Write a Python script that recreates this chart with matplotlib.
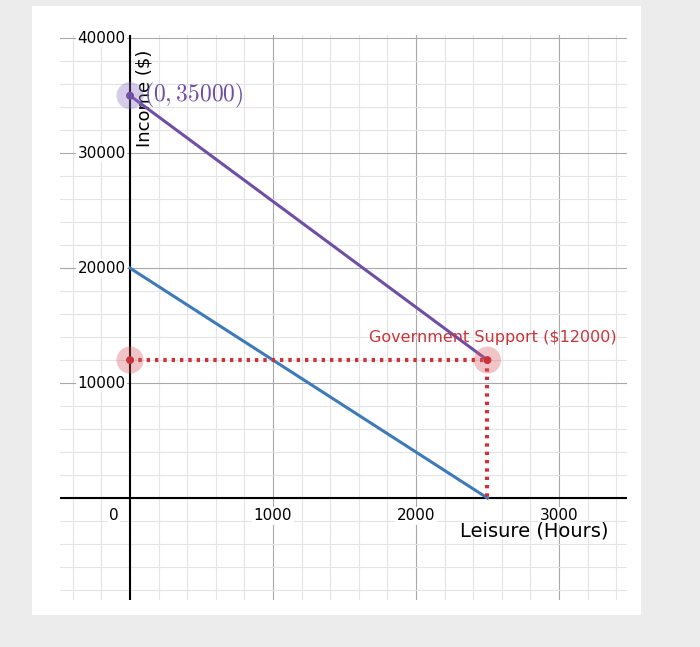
import matplotlib.pyplot as plt
from matplotlib.patches import Rectangle
import numpy as np

# --- data ---
budget_x = [0, 2500]
budget_y = [35000, 12000]
base_x = [0, 2500]
base_y = [20000, 0]
support_h_x = [0, 2500]
support_h_y = [12000, 12000]
support_v_x = [2500, 2500]
support_v_y = [12000, 0]
marked_x = [0, 0, 2500]
marked_y = [35000, 12000, 12000]
marked_c = ["#8a6fc0", "#d9595f", "#d9595f"]

purple = "#6f4fa5"
blue = "#3d7ab8"
red = "#c9343a"

plt.rcParams["mathtext.fontset"] = "cm"

fig = plt.figure(figsize=(7, 6.47), dpi=100)
fig.patches.append(Rectangle((0, 0), 1, 1, transform=fig.transFigure,
                             facecolor="#ececec", zorder=-2))
fig.patches.append(Rectangle((0.045, 0.05), 0.87, 0.94, transform=fig.transFigure,
                             facecolor="white", zorder=-1))

ax = fig.add_axes([0.0857, 0.0726, 0.81, 0.873])
xmin, xmax, ymin, ymax = -490, 3476, -8870, 40260
ax.set_xlim(xmin, xmax)
ax.set_ylim(ymin, ymax)

for x in np.arange(-400, 3500, 200):
    ax.axvline(x, color="#e4e4e4" if x % 1000 else "#a8a8a8", lw=0.8, zorder=0)
for y in np.arange(-8000, 40001, 2000):
    ax.axhline(y, color="#e4e4e4" if y % 10000 else "#a8a8a8", lw=0.8, zorder=0)
ax.axvline(0, color="black", lw=1.5, zorder=1)
ax.axhline(0, color="black", lw=1.5, zorder=1)

for s in ax.spines.values():
    s.set_visible(False)
ax.set_xticks([])
ax.set_yticks([])

bbox = dict(facecolor="white", edgecolor="none", pad=1)
for x in [1000, 2000, 3000]:
    ax.text(x, -900, str(x), ha="center", va="top", fontsize=11, bbox=bbox)
ax.text(-80, -900, "0", ha="right", va="top", fontsize=11, bbox=bbox)
for y in [10000, 20000, 30000, 40000]:
    ax.text(-30, y, str(y), ha="right", va="center", fontsize=11, bbox=bbox)

ax.text(3350, -2000, "Leisure (Hours)", ha="right", va="top", fontsize=14)
ax.text(40, 30500, "Income ($)", rotation=90, ha="left", va="bottom", fontsize=13)

ax.plot(budget_x, budget_y, color=purple, lw=2.2, zorder=3)
ax.plot(base_x, base_y, color=blue, lw=2.2, zorder=3)
ax.plot(support_h_x, support_h_y, color=red, lw=3, ls=(0, (0.8, 1.2)), zorder=3)
ax.plot(support_v_x, support_v_y, color=red, lw=3, ls=(0, (0.8, 1.2)), zorder=3)
ax.scatter(marked_x, marked_y, s=380, color=marked_c, alpha=0.35, lw=0, zorder=4)
ax.scatter(marked_x, marked_y, s=22, color=[purple, red, red], zorder=5)

ax.text(100, 35000, r"$(0, 35000)$", color=purple, fontsize=17, va="center", zorder=6)
ax.text(2540, 13300, "Government Support ($12000)", color=red, fontsize=11.5,
        ha="center", va="bottom", zorder=6)

fig.savefig("out.png", dpi=100)
